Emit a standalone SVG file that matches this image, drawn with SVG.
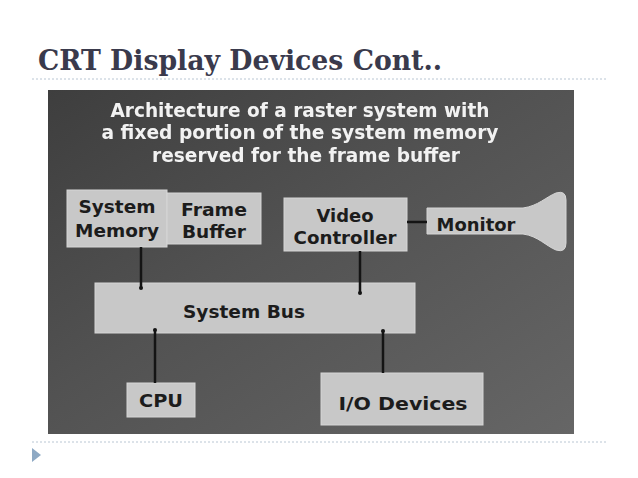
<svg xmlns="http://www.w3.org/2000/svg" width="638" height="478" viewBox="0 0 638 478">
<defs>
  <linearGradient id="panelGrad" x1="0" y1="0" x2="1" y2="1">
    <stop offset="0" stop-color="#3e3e3e"/>
    <stop offset="0.45" stop-color="#525252"/>
    <stop offset="1" stop-color="#666666"/>
  </linearGradient>
  <filter id="soft" x="-5%" y="-20%" width="110%" height="140%">
    <feGaussianBlur stdDeviation="0.6"/>
  </filter>
</defs>
<style>
  .title { font-family: "DejaVu Serif", "Liberation Serif", serif; font-weight: bold; font-size: 28px; fill: #3a3a4c; }
  .rule { stroke: #b9c6d3; stroke-width: 1; stroke-dasharray: 2 2; fill: none; }
  .head { font-family: "DejaVu Sans", "Liberation Sans", sans-serif; font-weight: bold; font-size: 20px; fill: #f2f2f2; text-anchor: middle; }
  .box { fill: #c8c8c8; stroke: #d6d6d6; stroke-width: 1; }
  .lbl { font-family: "DejaVu Sans", "Liberation Sans", sans-serif; font-weight: bold; font-size: 18px; fill: #1c1c1c; text-anchor: middle; }
  .wire { stroke: #141414; stroke-width: 2.5; fill: none; }
  .dot { fill: #141414; }
</style>

<text class="title" x="38" y="70" textLength="404" lengthAdjust="spacingAndGlyphs">CRT Display Devices Cont..</text>
<line class="rule" x1="32" y1="79" x2="607" y2="79"/>

<rect x="48" y="90" width="526" height="344" fill="url(#panelGrad)"/>

<g filter="url(#soft)">
  <text class="head" x="300" y="117" textLength="379" lengthAdjust="spacingAndGlyphs">Architecture of a raster system with</text>
  <text class="head" x="300" y="139" textLength="397" lengthAdjust="spacingAndGlyphs">a fixed portion of the system memory</text>
  <text class="head" x="306" y="162" textLength="308" lengthAdjust="spacingAndGlyphs">reserved for the frame buffer</text>
</g>

<g id="system-memory">
  <rect class="box" x="67" y="190" width="100" height="57"/>
  <text class="lbl" x="117" y="213" textLength="77" lengthAdjust="spacingAndGlyphs">System</text>
  <text class="lbl" x="117" y="237" textLength="84" lengthAdjust="spacingAndGlyphs">Memory</text>
</g>

<g id="frame-buffer">
  <rect class="box" x="167" y="193" width="94" height="51"/>
  <text class="lbl" x="214" y="216" textLength="66" lengthAdjust="spacingAndGlyphs">Frame</text>
  <text class="lbl" x="214" y="238" textLength="64" lengthAdjust="spacingAndGlyphs">Buffer</text>
</g>

<g id="video-controller">
  <rect class="box" x="284" y="198" width="123" height="53"/>
  <text class="lbl" x="345" y="222" textLength="57" lengthAdjust="spacingAndGlyphs">Video</text>
  <text class="lbl" x="345" y="244" textLength="103" lengthAdjust="spacingAndGlyphs">Controller</text>
</g>

<g id="monitor">
  <path class="box" d="M427,208 L523,208 C538,206 546,197 556,193 Q566,190 566,200 L566,243 Q566,253 556,250 C546,246 538,236 523,234 L427,234 Z"/>
  <text class="lbl" x="476" y="231" textLength="79" lengthAdjust="spacingAndGlyphs">Monitor</text>
</g>

<g id="system-bus">
  <rect class="box" x="95" y="283" width="320" height="50"/>
  <text class="lbl" x="244" y="318" textLength="122" lengthAdjust="spacingAndGlyphs">System Bus</text>
</g>

<g id="cpu">
  <rect class="box" x="127" y="383" width="68" height="34"/>
  <text class="lbl" x="161" y="407" textLength="44" lengthAdjust="spacingAndGlyphs">CPU</text>
</g>

<g id="io-devices">
  <rect class="box" x="321" y="373" width="162" height="52"/>
  <text class="lbl" x="403" y="410" textLength="129" lengthAdjust="spacingAndGlyphs">I/O Devices</text>
</g>

<g id="connectors">
  <line class="wire" x1="141" y1="247" x2="141" y2="288"/>
  <circle class="dot" cx="141" cy="288" r="2"/>
  <line class="wire" x1="360" y1="251" x2="360" y2="293"/>
  <circle class="dot" cx="360" cy="293" r="2"/>
  <line class="wire" x1="407" y1="222" x2="427" y2="222"/>
  <line class="wire" x1="155" y1="330" x2="155" y2="383"/>
  <circle class="dot" cx="155" cy="330" r="2"/>
  <line class="wire" x1="383" y1="331" x2="383" y2="373"/>
  <circle class="dot" cx="383" cy="331" r="2"/>
</g>

<line class="rule" x1="32" y1="442" x2="606" y2="442"/>
<polygon points="32,448 41,455 32,462" fill="#8ea9c4"/>
</svg>
